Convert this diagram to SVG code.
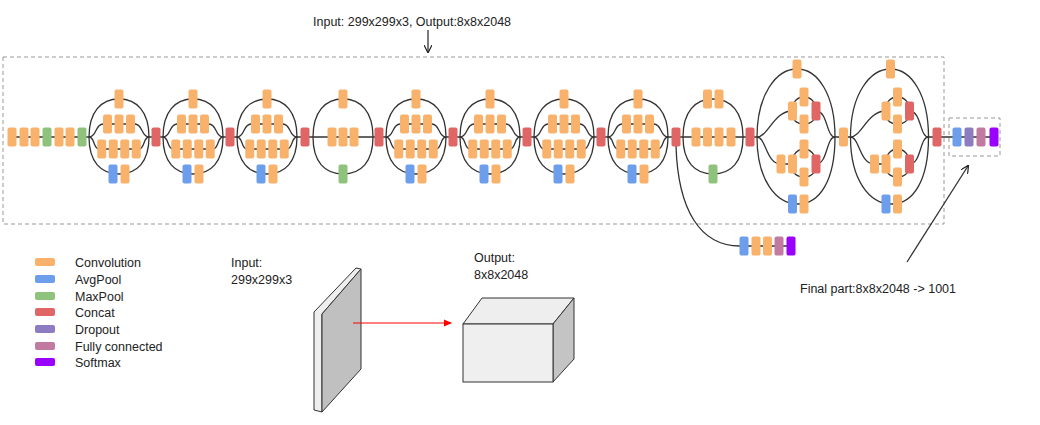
<svg xmlns="http://www.w3.org/2000/svg" xmlns:xlink="http://www.w3.org/1999/xlink" width="1040" height="425" viewBox="0 0 1040 425">
<style>
text{font-family:"Liberation Sans",Arial,sans-serif;font-size:12.5px;fill:#222}
.e{fill:none;stroke:#333;stroke-width:1.3}
.d{fill:none;stroke:#999;stroke-width:1;stroke-dasharray:4 3}
.o{fill:#f9b26c}.b{fill:#6d9eeb}.g{fill:#8fc37d}.r{fill:#e06666}.p{fill:#8e7cc3}.k{fill:#c27ba0}.v{fill:#9900ff}
</style>
<defs>
<rect id="blk" x="-4.5" y="-9.5" width="9" height="19" rx="2"/>
<marker id="ar" markerWidth="8" markerHeight="8" refX="7" refY="4" orient="auto" markerUnits="userSpaceOnUse"><path d="M0 0L8 4L0 8" fill="none" stroke="#222" stroke-width="1.2"/></marker>
<marker id="arr" markerWidth="8" markerHeight="8" refX="7" refY="4" orient="auto" markerUnits="userSpaceOnUse"><path d="M0 0.5L8 4L0 7.5z" fill="#f00"/></marker>
<g id="modA">
<path class="e" d="M-30 137C-30 112-18 99 0 99C18 99 30 112 30 137M-30 137C-30 162-18 174 0 174C18 174 30 162 30 137M-30 137C-22 137-24 124-16 124H16C24 124 22 137 30 137M-30 137C-24 137-26 149-20 149H20C26 149 24 137 30 137"/>
<use href="#blk" class="o" x="0" y="99"/>
<use href="#blk" class="o" x="-11.5" y="124"/><use href="#blk" class="o" x="0" y="124"/><use href="#blk" class="o" x="11.5" y="124"/>
<use href="#blk" class="o" x="-17.25" y="149"/><use href="#blk" class="o" x="-5.75" y="149"/><use href="#blk" class="o" x="5.75" y="149"/><use href="#blk" class="o" x="17.25" y="149"/>
<use href="#blk" class="b" x="-6" y="174"/><use href="#blk" class="o" x="6" y="174"/>
</g>
<g id="modE">
<path class="e" d="M-39 137C-39 95-20 69 1 69C22 69 39 95 39 137M-39 137C-39 180-20 204 2 204C24 204 39 180 39 137M-39 137C-28 137-22 111-4 111M-4 111C-4 101 2 97 8 97C14 97 20 101 20 111M-4 111C-4 121 2 124 8 124C14 124 20 121 20 111M20 111C32 111 30 137 39 137M-39 137C-30 137-30 164-15 164H-4M-4 164C-4 154 2 149 8 149C14 149 20 154 20 164M-4 164C-4 174 2 177 8 177C14 177 20 174 20 164M20 164C32 164 30 137 39 137"/>
<use href="#blk" class="o" x="1" y="69"/>
<use href="#blk" class="o" x="-3.5" y="111"/><use href="#blk" class="o" x="8" y="97"/><use href="#blk" class="o" x="8" y="124"/><use href="#blk" class="r" x="20" y="111"/>
<use href="#blk" class="o" x="-15" y="164"/><use href="#blk" class="o" x="-3.5" y="164"/><use href="#blk" class="o" x="8" y="149"/><use href="#blk" class="o" x="8" y="177"/><use href="#blk" class="r" x="20" y="164"/>
<use href="#blk" class="b" x="-3.5" y="204"/><use href="#blk" class="o" x="8" y="204"/>
</g>
</defs>
<rect width="1040" height="425" fill="#fff"/>
<rect class="d" x="3" y="57" width="941" height="167"/>
<rect class="d" x="949" y="118" width="51" height="38"/>
<g id="connectors">
<path class="e" d="M8 137H89M149 137H163M223 137H237M297 137H386M446 137H460M520 137H534M594 137H608M668 137H757M835 137H850.5M928.5 137H996"/>
<path class="e" d="M676 146C678 210 700 246 740 246H791"/>
<path class="e" d="M428 30V52" marker-end="url(#ar)"/>
<path class="e" d="M907 262L968 166" marker-end="url(#ar)"/>
</g>
<g id="stem">
<use href="#blk" class="o" x="12" y="137"/><use href="#blk" class="o" x="24" y="137"/><use href="#blk" class="o" x="35" y="137"/><use href="#blk" class="g" x="47" y="137"/><use href="#blk" class="o" x="59" y="137"/><use href="#blk" class="o" x="70" y="137"/><use href="#blk" class="g" x="82" y="137"/>
</g>
<g id="mixed1"><use href="#modA" x="119"/></g>
<g id="mixed2"><use href="#modA" x="193"/></g>
<g id="mixed3"><use href="#modA" x="267"/></g>
<g id="reduce1" transform="translate(343 0)">
<path class="e" d="M-30 137C-30 112-18 99 0 99C18 99 30 112 30 137M-30 137C-30 162-18 174 0 174C18 174 30 162 30 137"/>
<use href="#blk" class="o" x="0" y="99"/>
<use href="#blk" class="o" x="-11" y="137"/><use href="#blk" class="o" x="0" y="137"/><use href="#blk" class="o" x="11" y="137"/>
<use href="#blk" class="g" x="0" y="174"/>
</g>
<g id="mixed4"><use href="#modA" x="416"/></g>
<g id="mixed5"><use href="#modA" x="490"/></g>
<g id="mixed6"><use href="#modA" x="564"/></g>
<g id="mixed7"><use href="#modA" x="638"/></g>
<g id="reduce2" transform="translate(713 0)">
<path class="e" d="M-30 137C-30 112-18 99 0 99C18 99 30 112 30 137M-30 137C-30 162-18 174 0 174C18 174 30 162 30 137"/>
<use href="#blk" class="o" x="-5.5" y="99"/><use href="#blk" class="o" x="6" y="99"/>
<use href="#blk" class="o" x="-17" y="137"/><use href="#blk" class="o" x="-5.5" y="137"/><use href="#blk" class="o" x="6" y="137"/><use href="#blk" class="o" x="18" y="137"/>
<use href="#blk" class="g" x="0" y="174"/>
</g>
<g id="mixed8"><use href="#modE" x="796"/></g>
<g id="mixed9"><use href="#modE" x="889.5"/></g>
<g id="concats">
<use href="#blk" class="r" x="156" y="137"/><use href="#blk" class="r" x="230" y="137"/><use href="#blk" class="r" x="305" y="137"/><use href="#blk" class="r" x="379" y="137"/><use href="#blk" class="r" x="453" y="137"/><use href="#blk" class="r" x="527" y="137"/><use href="#blk" class="r" x="601" y="137"/><use href="#blk" class="r" x="676" y="137"/><use href="#blk" class="r" x="750" y="137"/><use href="#blk" class="r" x="937" y="137"/>
<use href="#blk" class="o" x="843.5" y="137"/>
</g>
<g id="final">
<use href="#blk" class="b" x="957" y="137"/><use href="#blk" class="p" x="969" y="137"/><use href="#blk" class="k" x="981" y="137"/><use href="#blk" class="v" x="994" y="137"/>
</g>
<g id="aux">
<use href="#blk" class="b" x="744" y="246"/><use href="#blk" class="o" x="756" y="246"/><use href="#blk" class="o" x="767.5" y="246"/><use href="#blk" class="k" x="779" y="246"/><use href="#blk" class="v" x="791" y="246"/>
</g>
<text x="313" y="26">Input: 299x299x3, Output:8x8x2048</text>
<text x="800" y="293">Final part:8x8x2048 -&gt; 1001</text>
<g id="legend">
<rect class="o" x="35" y="258" width="20" height="8" rx="2"/><text x="75" y="267">Convolution</text>
<rect class="b" x="35" y="275" width="20" height="8" rx="2"/><text x="75" y="284">AvgPool</text>
<rect class="g" x="35" y="292" width="20" height="8" rx="2"/><text x="75" y="301">MaxPool</text>
<rect class="r" x="35" y="308" width="20" height="8" rx="2"/><text x="75" y="317">Concat</text>
<rect class="p" x="35" y="325" width="20" height="8" rx="2"/><text x="75" y="334">Dropout</text>
<rect class="k" x="35" y="342" width="20" height="8" rx="2"/><text x="75" y="351">Fully connected</text>
<rect class="v" x="35" y="358" width="20" height="8" rx="2"/><text x="75" y="367">Softmax</text>
</g>
<g id="input">
<text x="231" y="267">Input:</text><text x="231" y="284">299x299x3</text>
<polygon points="314,312 356,268 361,269 322,314 322,412 314,410" fill="#eee" stroke="#333" stroke-width="1"/>
<polygon points="322,314 361,269 361,369 322,412" fill="#c0c0c0" stroke="#333" stroke-width="1"/>
</g>
<path d="M353 323H451" stroke="#f00" stroke-width="1" marker-end="url(#arr)"/>
<g id="output">
<text x="474" y="262">Output:</text><text x="474" y="279">8x8x2048</text>
<polygon points="463,324 482,298 574,298 553,324" fill="#eee" stroke="#333" stroke-width="1"/>
<polygon points="553,324 574,298 574,359 553,382" fill="#c4c4c4" stroke="#333" stroke-width="1"/>
<rect x="463" y="324" width="90" height="58" fill="#efefef" stroke="#333" stroke-width="1"/>
</g>
</svg>
